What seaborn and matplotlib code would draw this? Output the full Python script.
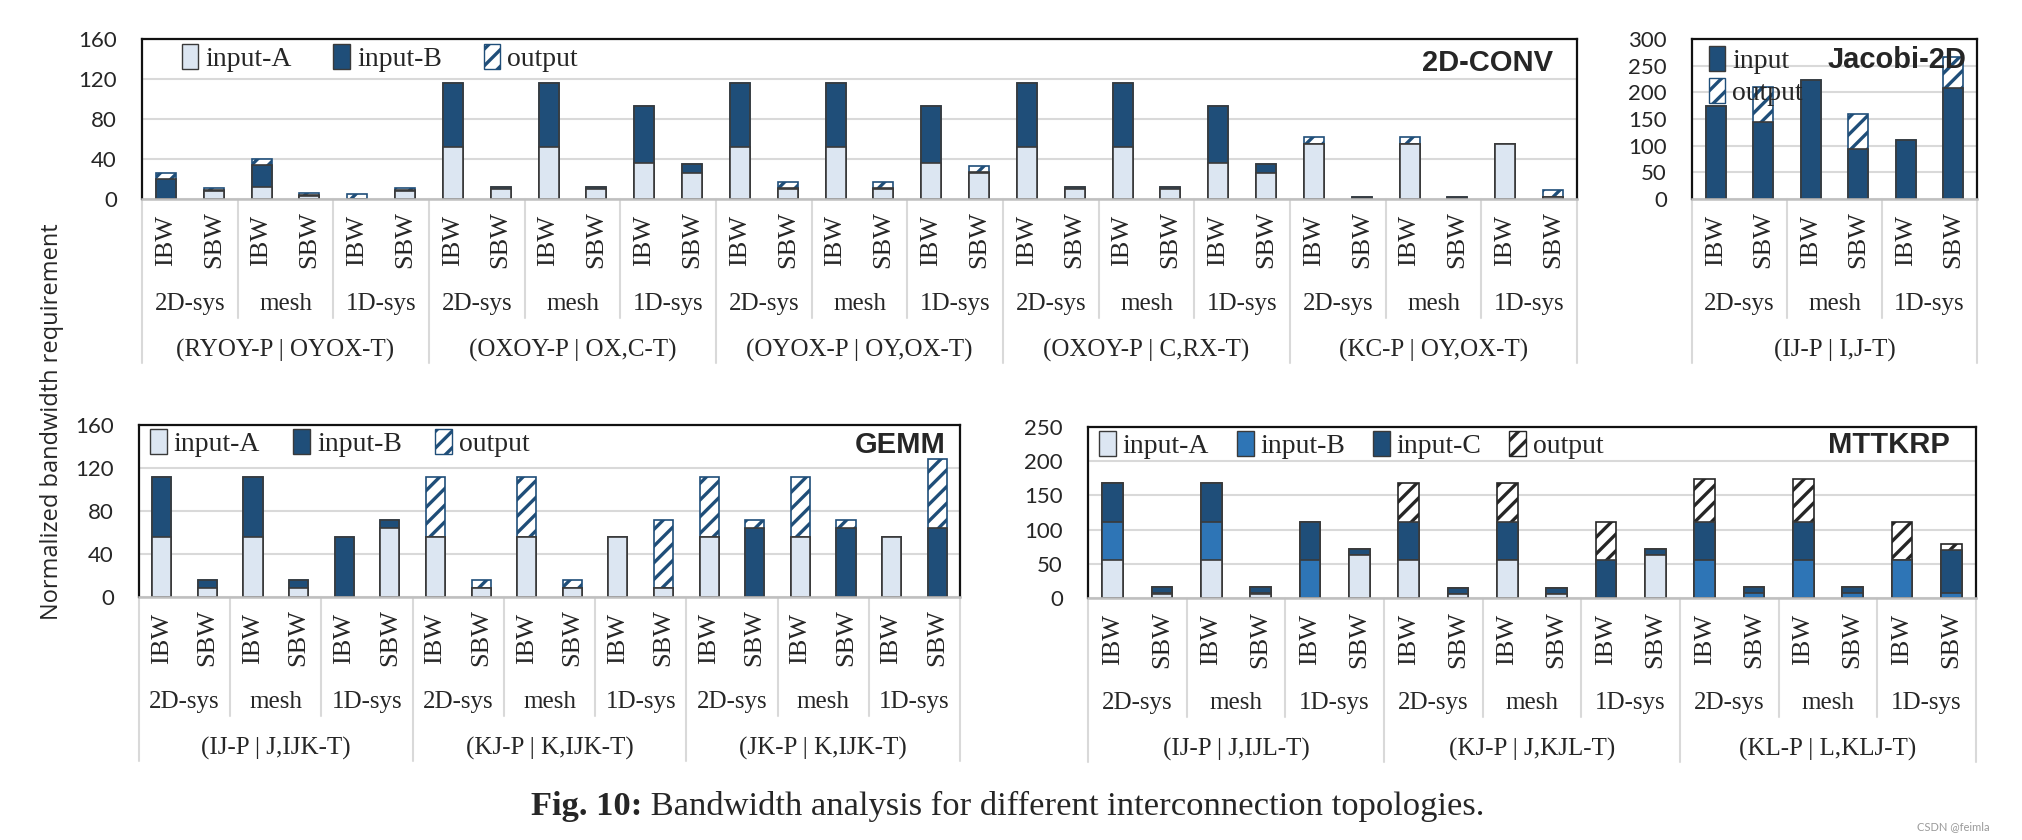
import numpy as np
import pandas as pd
import seaborn as sns
import matplotlib.pyplot as plt
from matplotlib import transforms
from matplotlib.patches import Patch

# ---- data ----
topos = ["2D-sys", "mesh", "1D-sys"]
bws = ["IBW", "SBW"]

conv_parts = ["(RYOY-P | OYOX-T)", "(OXOY-P | OX,C-T)", "(OYOX-P | OY,OX-T)",
              "(OXOY-P | C,RX-T)", "(KC-P | OY,OX-T)"]
conv_a = [0, 8, 12, 3, 0, 8, 52, 10, 52, 10, 36, 26, 52, 10, 52, 10, 36, 26,
          52, 10, 52, 10, 36, 26, 55, 0, 55, 0, 55, 2]
conv_b = [20, 1, 22, 1, 0, 1, 64, 2, 64, 2, 57, 9, 64, 1, 64, 1, 57, 1,
          64, 2, 64, 2, 57, 9, 0, 2, 0, 2, 0, 0]
conv_out = [6, 2, 6, 2, 5, 2, 0, 0, 0, 0, 0, 0, 0, 6, 0, 6, 0, 6,
            0, 0, 0, 0, 0, 0, 7, 0, 7, 0, 0, 7]

jac_parts = ["(IJ-P | I,J-T)"]
jac_in = [174, 144, 223, 94, 110, 208]
jac_out = [0, 66, 0, 65, 0, 58]

gemm_parts = ["(IJ-P | J,IJK-T)", "(KJ-P | K,IJK-T)", "(JK-P | K,IJK-T)"]
gemm_a = [56, 8, 56, 8, 0, 64, 56, 8, 56, 8, 56, 8, 56, 0, 56, 0, 56, 0]
gemm_b = [56, 8, 56, 8, 56, 8, 0, 0, 0, 0, 0, 0, 0, 64, 0, 64, 0, 64]
gemm_out = [0, 0, 0, 0, 0, 0, 56, 8, 56, 8, 0, 64, 56, 8, 56, 8, 0, 64]

mtt_parts = ["(IJ-P | J,IJL-T)", "(KJ-P | J,KJL-T)", "(KL-P | L,KLJ-T)"]
mtt_a = [55, 6, 55, 6, 0, 63, 55, 6, 55, 6, 0, 63, 0, 0, 0, 0, 0, 0]
mtt_b = [56, 1, 56, 1, 55, 0, 0, 0, 0, 0, 0, 0, 55, 7, 55, 7, 55, 7]
mtt_c = [57, 9, 57, 9, 56, 9, 56, 9, 56, 9, 55, 9, 56, 9, 56, 9, 0, 63]
mtt_out = [0, 0, 0, 0, 0, 0, 57, 0, 57, 0, 56, 0, 63, 0, 63, 0, 56, 9]

# ---- style ----
sns.set_theme(style="white")
serif = ["Liberation Serif", "DejaVu Serif"]
sans = ["Lato", "DejaVu Sans"]
narrow_bold = ["Liberation Sans Narrow", "Liberation Sans", "DejaVu Sans"]
plt.rcParams["font.family"] = serif
plt.rcParams["hatch.linewidth"] = 2.4

light = "#dce6f2"
navy = "#1f4e79"
blue = "#2e75b6"
edge = "#3a3a3a"
gridc = "#d9d9d9"

W, H = 2022, 840
fig = plt.figure(figsize=(W / 100, H / 100), dpi=100)


def add_axes(l, t, r, b):
    ax = fig.add_axes([l / W, 1 - b / H, (r - l) / W, (b - t) / H])
    return ax, b - t


def style(color, hatch=None, hcolor=None):
    if hatch:
        return dict(color="white", edgecolor=hcolor, hatch=hatch, linewidth=1.2)
    return dict(color=color, edgecolor=edge, linewidth=1.2)


def draw_bars(ax, layers, ymax, ystep):
    n = len(layers[0][0])
    slots = [f"s{i}" for i in range(n)]
    cum = np.zeros(n)
    tops = []
    for vals, st in layers:
        cum = cum + np.array(vals, dtype=float)
        tops.append((cum.copy(), st))
    # tallest stack first, lower layers drawn over it
    for top, st in reversed(tops):
        df = pd.DataFrame({"slot": slots, "h": top})
        sns.barplot(data=df, x="slot", y="h", order=slots, ax=ax, width=0.42,
                    errorbar=None, saturation=1, **st)
    ax.set_xlim(-0.5, n - 0.5)
    ax.set_ylim(0, ymax)
    ax.set_yticks(np.arange(0, ymax + 1, ystep))
    ax.set_xticks([])
    ax.set_xlabel("")
    ax.set_ylabel("")
    ax.yaxis.grid(True, color=gridc, lw=1.5)
    ax.set_axisbelow(True)
    ax.tick_params(axis="y", length=0, pad=18, labelsize=16)
    for lbl in ax.get_yticklabels():
        lbl.set_fontfamily(sans)
    for s in ["top", "left", "right"]:
        ax.spines[s].set_color("#111111")
        ax.spines[s].set_linewidth(1.6)
    ax.spines["bottom"].set_color("#bfbfbf")
    ax.spines["bottom"].set_linewidth(1.8)
    return n


def draw_table(ax, n, parts, axh):
    trans = transforms.blended_transform_factory(ax.transData, ax.transAxes)
    f = lambda px: -px / axh
    for i in range(n):
        ax.text(i, f(41), bws[i % 2], rotation=90, ha="center", va="center",
                fontsize=19, transform=trans)
    for g in range(n // 2):
        ax.text(2 * g + 0.5, f(105), topos[g % 3], ha="center", va="center",
                fontsize=18, transform=trans)
    for p, lab in enumerate(parts):
        ax.text(6 * p + 2.5, f(151), lab, ha="center", va="center",
                fontsize=18, transform=trans)
    for g in range(n // 2 + 1):
        x = 2 * g - 0.5
        end = 164 if g % 3 == 0 else 119
        ax.plot([x, x], [0, f(end)], transform=trans, color=gridc, lw=1.5,
                clip_on=False)


def add_title(ax, text, dx, dy, axw, axh):
    ax.text(1 - dx / axw, 1 - dy / axh, text, transform=ax.transAxes,
            ha="right", va="center", fontsize=21, fontweight="bold",
            family=narrow_bold)


# ---- 2D-CONV ----
ax, h = add_axes(142, 39, 1577, 199)
st_a = style(light)
st_b = style(navy)
st_o = style(None, "//", navy)
n = draw_bars(ax, [(conv_a, st_a), (conv_b, st_b), (conv_out, st_o)], 160, 40)
draw_table(ax, n, conv_parts, h)
add_title(ax, "2D-CONV", 24, 24, 1435, h)
handles = [Patch(facecolor=light, edgecolor=edge, label="input-A"),
           Patch(facecolor=navy, edgecolor=edge, label="input-B"),
           Patch(facecolor="white", edgecolor=navy, hatch="//", label="output")]
ax.legend(handles=handles, loc="upper left", bbox_to_anchor=(0.02, 1.04),
          ncol=3, frameon=False, fontsize=20, handlelength=0.6, handleheight=1.0,
          handletextpad=0.25, columnspacing=1.5, borderaxespad=0)

# ---- Jacobi-2D ----
ax, h = add_axes(1692, 39, 1977, 199)
n = draw_bars(ax, [(jac_in, st_b), (jac_out, st_o)], 300, 50)
draw_table(ax, n, jac_parts, h)
add_title(ax, "Jacobi-2D", 11, 21, 285, h)
handles = [Patch(facecolor=navy, edgecolor=edge, label="input"),
           Patch(facecolor="white", edgecolor=navy, hatch="//", label="output")]
ax.legend(handles=handles, loc="upper left", bbox_to_anchor=(0.0, 1.06),
          ncol=1, frameon=False, fontsize=20, handlelength=0.6, handleheight=1.0,
          handletextpad=0.25, labelspacing=0.15, borderaxespad=0.2)

# ---- GEMM ----
ax, h = add_axes(139, 425, 960, 597)
n = draw_bars(ax, [(gemm_a, st_a), (gemm_b, st_b), (gemm_out, st_o)], 160, 40)
draw_table(ax, n, gemm_parts, h)
add_title(ax, "GEMM", 14, 20, 821, h)
handles = [Patch(facecolor=light, edgecolor=edge, label="input-A"),
           Patch(facecolor=navy, edgecolor=edge, label="input-B"),
           Patch(facecolor="white", edgecolor=navy, hatch="//", label="output")]
ax.legend(handles=handles, loc="upper left", bbox_to_anchor=(0.0, 1.04),
          ncol=3, frameon=False, fontsize=20, handlelength=0.6, handleheight=1.0,
          handletextpad=0.25, columnspacing=1.2, borderaxespad=0)

# ---- MTTKRP ----
ax, h = add_axes(1088, 427, 1976, 598)
st_mb = style(blue)
st_mo = style(None, "//", "#262626")
n = draw_bars(ax, [(mtt_a, st_a), (mtt_b, st_mb), (mtt_c, st_b), (mtt_out, st_mo)], 250, 50)
draw_table(ax, n, mtt_parts, h)
add_title(ax, "MTTKRP", 26, 18, 888, h)
handles = [Patch(facecolor=light, edgecolor=edge, label="input-A"),
           Patch(facecolor=blue, edgecolor=edge, label="input-B"),
           Patch(facecolor=navy, edgecolor=edge, label="input-C"),
           Patch(facecolor="white", edgecolor="#262626", hatch="//", label="output")]
ax.legend(handles=handles, loc="upper left", bbox_to_anchor=(0.0, 1.04),
          ncol=4, frameon=False, fontsize=20, handlelength=0.6, handleheight=1.0,
          handletextpad=0.25, columnspacing=1.0, borderaxespad=0)

# ---- shared labels ----
fig.text(52 / W, 1 - 422 / H, "Normalized bandwidth requirement", rotation=90,
         ha="center", va="center", fontsize=17, family=["Open Sans", "DejaVu Sans"])

t1 = fig.text(531 / W, 1 - 822 / H, "Fig. 10:", ha="left", va="bottom",
              fontsize=24.8, fontweight="bold")
ax.annotate(" Bandwidth analysis for different interconnection topologies.",
            xy=(1, 0), xycoords=t1, ha="left", va="bottom", fontsize=24.8,
            annotation_clip=False)

fig.text(1990 / W, 1 - 827 / H, "CSDN @feimla", ha="right", va="center",
         fontsize=8, color="#9a9a9a", family=sans)

fig.savefig("out.png", dpi=100)
